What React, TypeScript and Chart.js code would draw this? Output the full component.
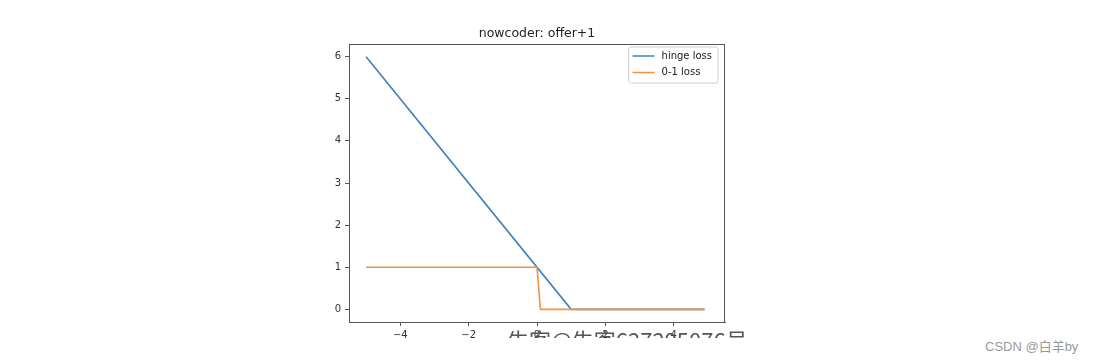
import React, { useEffect, useRef } from 'react';
import { Chart, registerables } from 'chart.js';

Chart.register(...registerables);

const chartTitle = 'nowcoder: offer+1';
const seriesLabels = ['hinge loss', '0-1 loss'];
const hingeX = [-5, 1, 4.9];
const hingeY = [6, 0, 0];
const zeroOneX = [-5, 0, 0.1, 4.9];
const zeroOneY = [1, 1, 0, 0];
const xTicks = [-4, -2, 0, 2, 4];
const yTicks = [0, 1, 2, 3, 4, 5, 6];

const FONT = "'DejaVu Sans', sans-serif";

const decorPlugin = {
  id: 'decor',
  afterDraw(chart: any) {
    const { ctx, chartArea } = chart;
    const { left, right, top, bottom } = chartArea;
    ctx.save();
    // frame
    ctx.strokeStyle = '#555';
    ctx.lineWidth = 1;
    ctx.strokeRect(Math.round(left) + 0.5, Math.round(top) + 0.5, Math.round(right - left) - 1, Math.round(bottom - top));
    // title
    ctx.fillStyle = '#222';
    ctx.font = `12.5px ${FONT}`;
    ctx.textAlign = 'center';
    ctx.textBaseline = 'alphabetic';
    ctx.fillText(chartTitle, (left + right) / 2, top - 7);
    // legend
    ctx.font = `10px ${FONT}`;
    const ds = chart.data.datasets;
    let maxW = 0;
    ds.forEach((d: any) => { maxW = Math.max(maxW, ctx.measureText(d.label).width); });
    const w = 4 + 22 + 7 + maxW + 6;
    const h = 36;
    const bx = right - 7 - w;
    const by = top + 3;
    ctx.fillStyle = 'rgba(255,255,255,0.85)';
    ctx.strokeStyle = '#d0d0d0';
    ctx.beginPath();
    const r = 2;
    ctx.moveTo(bx + r, by);
    ctx.lineTo(bx + w - r, by);
    ctx.quadraticCurveTo(bx + w, by, bx + w, by + r);
    ctx.lineTo(bx + w, by + h - r);
    ctx.quadraticCurveTo(bx + w, by + h, bx + w - r, by + h);
    ctx.lineTo(bx + r, by + h);
    ctx.quadraticCurveTo(bx, by + h, bx, by + h - r);
    ctx.lineTo(bx, by + r);
    ctx.quadraticCurveTo(bx, by, bx + r, by);
    ctx.closePath();
    ctx.fill();
    ctx.stroke();
    ds.forEach((d: any, i: number) => {
      const y = by + 9 + i * 16.5;
      ctx.strokeStyle = d.borderColor;
      ctx.lineWidth = 1.5;
      ctx.beginPath();
      ctx.moveTo(bx + 4, y);
      ctx.lineTo(bx + 26, y);
      ctx.stroke();
      ctx.fillStyle = '#222';
      ctx.textAlign = 'left';
      ctx.textBaseline = 'middle';
      ctx.fillText(d.label, bx + 33, y);
    });
    ctx.restore();
  },
};

function fmt(v: number) {
  return v < 0 ? '\u2212' + Math.abs(v) : String(v);
}

export default function App() {
  const ref = useRef<HTMLCanvasElement | null>(null);
  useEffect(() => {
    if (!ref.current) return;
    const chart = new Chart(ref.current, {
      type: 'line',
      data: {
        datasets: [
          {
            label: seriesLabels[0],
            data: hingeX.map((x, i) => ({ x, y: hingeY[i] })),
            borderColor: '#3b80c0',
            borderWidth: 1.6,
            pointRadius: 0,
            tension: 0,
            fill: false,
            order: 1,
          },
          {
            label: seriesLabels[1],
            data: zeroOneX.map((x, i) => ({ x, y: zeroOneY[i] })),
            borderColor: '#f5923f',
            borderWidth: 1.6,
            pointRadius: 0,
            tension: 0,
            fill: false,
            order: 0,
          },
        ],
      },
      options: {
        animation: false,
        responsive: false,
        maintainAspectRatio: false,
        layout: { padding: { left: 309, right: 368, top: 44, bottom: 12 } },
        plugins: { legend: { display: false }, title: { display: false }, tooltip: { enabled: false } },
        scales: {
          x: {
            type: 'linear',
            min: -5.5,
            max: 5.5,
            afterFit: (s: any) => { s.height = 30; },
            afterBuildTicks: (s: any) => { s.ticks = xTicks.map((v) => ({ value: v })); },
            grid: { display: true, drawOnChartArea: false, drawTicks: true, tickLength: 4, color: '#555' },
            border: { display: true, color: '#555' },
            ticks: { color: '#333', font: { family: FONT, size: 10 }, padding: 3, callback: (v: any) => fmt(Number(v)), maxRotation: 0, autoSkip: false },
          },
          y: {
            type: 'linear',
            min: -0.3,
            max: 6.3,
            afterFit: (s: any) => { s.width = 40; },
            afterBuildTicks: (s: any) => { s.ticks = yTicks.map((v) => ({ value: v })); },
            grid: { display: true, drawOnChartArea: false, drawTicks: true, tickLength: 4, color: '#555' },
            border: { display: true, color: '#555' },
            ticks: { color: '#333', font: { family: FONT, size: 10 }, padding: 4, callback: (v: any) => fmt(Number(v)), autoSkip: false },
          },
        },
      },
      plugins: [decorPlugin],
    });
    return () => chart.destroy();
  }, []);

  return (
    <div style={{ position: 'absolute', left: 0, top: 0, width: 1093, height: 364, background: '#fff', overflow: 'hidden' }}>
      <div style={{ position: 'absolute', left: 0, top: 0, width: 1093, height: 338, overflow: 'hidden' }}>
        <canvas ref={ref} width={1093} height={364} style={{ display: 'block', width: 1093, height: 364 }} />
        <div style={{ position: 'absolute', left: 507, top: 328, fontFamily: "'Noto Sans CJK SC', 'DejaVu Sans', sans-serif", fontSize: 22, lineHeight: '22px', color: '#555', whiteSpace: 'nowrap', letterSpacing: 0 }}>
          牛客@牛客627295076号
        </div>
      </div>
      <div style={{ position: 'absolute', left: 985, top: 339, fontFamily: "'Liberation Sans', 'Noto Sans CJK SC', sans-serif", fontSize: 13, lineHeight: '15px', color: '#999', whiteSpace: 'nowrap' }}>
        CSDN @白羊by
      </div>
    </div>
  );
}
